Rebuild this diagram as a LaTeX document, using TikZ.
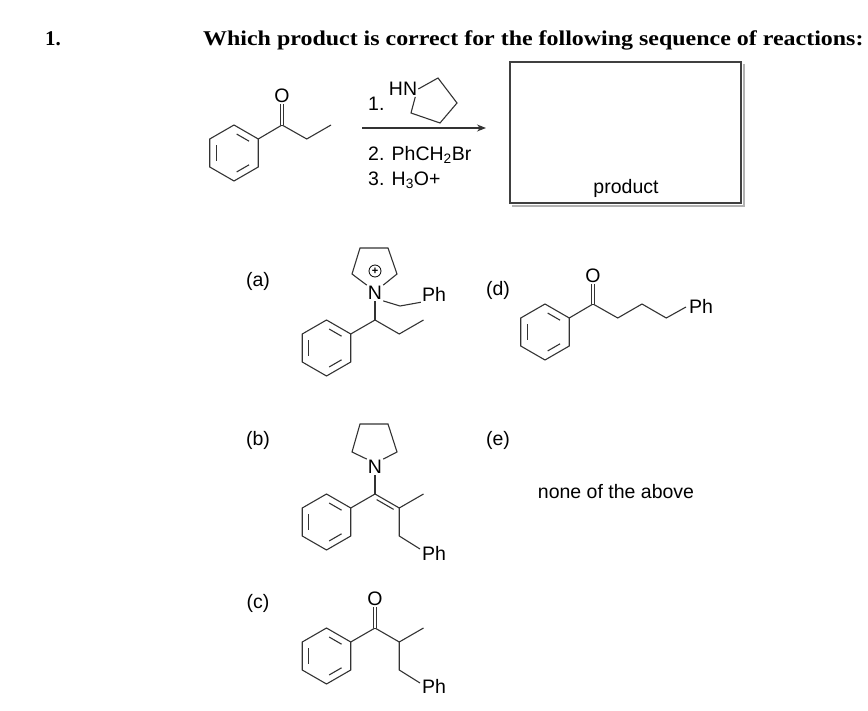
\documentclass[tikz,border=0pt]{standalone}
\usepackage{fontspec}
\usepackage{graphicx}
\setmainfont{Liberation Sans}
\newfontfamily\titlefont{Liberation Serif}
\usetikzlibrary{calc,arrows.meta}
\tikzset{bond/.style={line width=1.1pt,draw=black!80},
  dbond/.style={draw=black!80,line width=1pt,double,double distance=2.6pt},
  atom/.style={inner sep=1pt,font=\fontsize{19.5}{21}\selectfont},
  lbl/.style={font=\fontsize{19.5}{21}\selectfont,anchor=west,inner sep=0pt}}
\newcommand\benz[2]{%
 \begin{scope}[shift={(#1,#2)}]
 \draw[bond] (30:28)--(90:28)--(150:28)--(210:28)--(270:28)--(330:28)--cycle;
 \draw[bond] (15.09,11.79)--(2.66,18.96);
 \draw[bond] (-17.9,7.8)--(-17.9,-7.8);
 \draw[bond] (2.66,-18.96)--(15.09,-11.79);
 \end{scope}}
\begin{document}
\begin{tikzpicture}[x=1pt,y=1pt]
\useasboundingbox (0,0) rectangle (868,-711);
% title
\node[anchor=base west,inner sep=0pt,font=\titlefont\bfseries\fontsize{21}{24}\selectfont] (num) at (45,-46) {1.};
\node[anchor=base west,inner sep=0pt,font=\titlefont\bfseries\fontsize{21}{24}\selectfont] (title) at (203,-46) {\scalebox{1.14}[1]{Which product is correct for the following sequence of reactions:}};
% reactant
\benz{234}{-153}
\coordinate (r1) at (258.25,-139); \coordinate (r2) at (282,-125);
\node[atom] (rO) at (282,-96) {O};
\coordinate (r3) at (306.75,-139); \coordinate (r4) at (331,-125);
\draw[bond] (r1)--(r2)--(r3)--(r4);
\draw[dbond] (r2)--(rO);
% arrow and reagents
\coordinate (aS) at (362,-128); \coordinate (aE) at (486,-128);
\draw[bond,-{Stealth[length=9pt,width=7pt]}] (aS)--(aE);
\node[lbl] (s1) at (368,-104) {1.};
\node[atom] (hn) at (403,-89) {HN};
\coordinate (p1) at (438,-78); \coordinate (p2) at (457,-103);
\coordinate (p3) at (440,-123); \coordinate (p4) at (411,-113);
\draw[bond] (hn.east)--(p1)--(p2)--(p3)--(p4)--([xshift=-3pt]hn.south east);
\node[lbl] (s2) at (368,-155) {2. PhCH\textsubscript{2}Br};
\node[lbl] (s3) at (368,-180) {3. H\textsubscript{3}O+};
% product box
\draw[line width=2.5pt,gray!60] (744,-64)--(744,-206)--(512,-206);
\draw[line width=1.2pt,black!75] (510,-62) rectangle (741,-203);
\node[atom] (prod) at (626,-188) {product};
% labels
\node[atom] (la) at (258,-281) {(a)};
\node[atom] (lb) at (258,-440) {(b)};
\node[atom] (lc) at (258,-603) {(c)};
\node[atom] (ld) at (498,-290) {(d)};
\node[atom] (le) at (498,-440) {(e)};
\node[atom] (none) at (616,-492) {none of the above};
% (a)
\benz{326.5}{-348}
\coordinate (a1) at (350.75,-334); \coordinate (a2) at (375,-320);
\node[atom] (aN) at (375,-293) {N};
\coordinate (a3) at (399.25,-334); \coordinate (a4) at (423.5,-320);
\coordinate (a5) at (400,-306);
\node[atom] (aPh) at (434,-294) {Ph};
\draw[bond] (a1)--(a2)--(a3)--(a4);
\draw[bond] (a2)--(aN);
\draw[bond] (aN.south east)--(a5)--(aPh.south west);
\coordinate (q1) at (397,-274); \coordinate (q2) at (388,-248);
\coordinate (q3) at (360,-248); \coordinate (q4) at (352,-274);
\draw[bond] (aN.north east)--(q1)--(q2)--(q3)--(q4)--(aN.north west);
\node[draw,circle,line width=0.8pt,inner sep=0pt,minimum size=12pt,font=\fontsize{11}{11}\selectfont\bfseries] (plus) at (375,-271) {+};
% (b)
\benz{326.5}{-522}
\coordinate (b1) at (350.75,-508); \coordinate (b2) at (375,-494);
\node[atom] (bN) at (375,-467) {N};
\coordinate (b3) at (399.25,-508); \coordinate (b4) at (423.5,-494);
\coordinate (b5) at (399.25,-536); \coordinate (b6) at (420,-549);
\node[atom] (bPh) at (434,-553) {Ph};
\draw[bond] (b1)--(b2)--(b3)--(b4);
\draw[bond] (b3)--(b5)--(b6);
\draw[bond] (b2)--(bN);
\draw[bond] ($(b2)!0.15!(b3)+(-2,-3.5)$)--($(b2)!0.85!(b3)+(-2,-3.5)$);
\coordinate (t1) at (397,-452); \coordinate (t2) at (388,-424);
\coordinate (t3) at (360,-424); \coordinate (t4) at (352,-452);
\draw[bond] (bN.north east)--(t1)--(t2)--(t3)--(t4)--(bN.north west);
% (c)
\benz{326.5}{-656}
\coordinate (c1) at (350.75,-642); \coordinate (c2) at (375,-628);
\node[atom] (cO) at (375,-599) {O};
\coordinate (c3) at (399.25,-642); \coordinate (c4) at (423.5,-628);
\coordinate (c5) at (399.25,-670); \coordinate (c6) at (420,-683);
\node[atom] (cPh) at (434,-686) {Ph};
\draw[bond] (c1)--(c2)--(c3)--(c4);
\draw[bond] (c3)--(c5)--(c6);
\draw[dbond] (c2)--(cO);
% (d)
\benz{545}{-332}
\coordinate (d1) at (569.25,-318); \coordinate (d2) at (593,-304);
\node[atom] (dO) at (593,-276) {O};
\coordinate (d3) at (617.75,-318); \coordinate (d4) at (642,-304);
\coordinate (d5) at (666.25,-318); \coordinate (d6) at (686,-307);
\node[atom] (dPh) at (701,-306) {Ph};
\draw[bond] (d1)--(d2)--(d3)--(d4)--(d5)--(d6);
\draw[dbond] (d2)--(dO);
\end{tikzpicture}
\end{document}
